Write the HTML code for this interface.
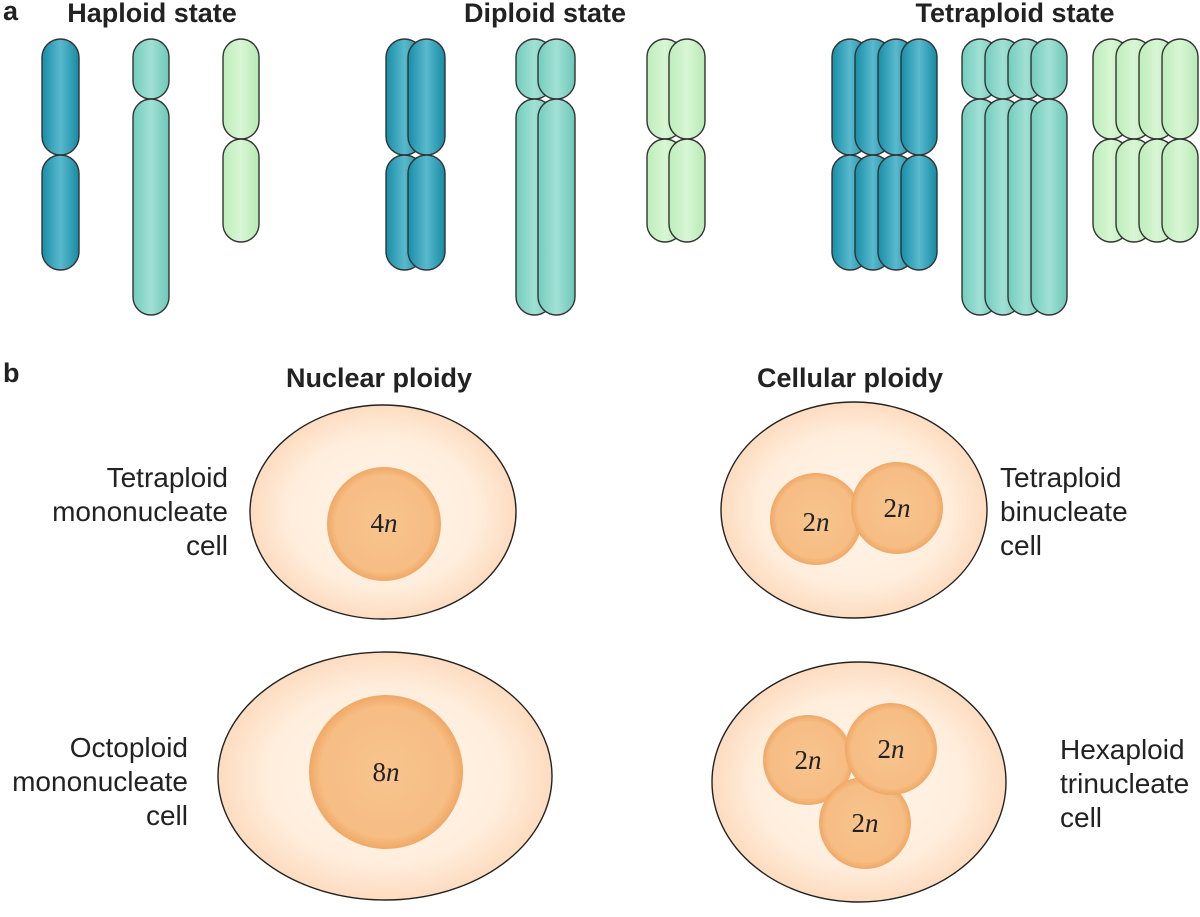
<!DOCTYPE html>
<html><head><meta charset="utf-8"><style>
html,body{margin:0;padding:0;background:#fff;}
svg{display:block;}
text{font-family:"Liberation Sans","DejaVu Sans",sans-serif;}
.t{font-weight:bold;font-size:27px;fill:#222;}
.l{font-size:28px;fill:#222;}
.n{font-family:"Liberation Serif","DejaVu Serif",serif;font-size:27px;fill:#222;}
</style></head><body>
<svg width="1200" height="917" viewBox="0 0 1200 917" xmlns="http://www.w3.org/2000/svg">
<defs>
<linearGradient id="gd" x1="0" x2="1" y1="0" y2="0"><stop offset="0" stop-color="#168ea8"/><stop offset="0.5" stop-color="#5ab9cd"/><stop offset="1" stop-color="#158ba5"/></linearGradient>
<linearGradient id="gt" x1="0" x2="1" y1="0" y2="0"><stop offset="0" stop-color="#72cdbd"/><stop offset="0.5" stop-color="#a2e0d5"/><stop offset="1" stop-color="#6cc8b8"/></linearGradient>
<linearGradient id="gg" x1="0" x2="1" y1="0" y2="0"><stop offset="0" stop-color="#bdedba"/><stop offset="0.5" stop-color="#d8f6d4"/><stop offset="1" stop-color="#b7eab4"/></linearGradient>
<radialGradient id="gc" cx="0.5" cy="0.5" r="0.5"><stop offset="0" stop-color="#fff4ea"/><stop offset="0.7" stop-color="#ffeedd"/><stop offset="1" stop-color="#fddcc0"/></radialGradient>
<radialGradient id="gn" cx="0.5" cy="0.5" r="0.5"><stop offset="0" stop-color="#f8c48e"/><stop offset="0.85" stop-color="#f6bd84"/><stop offset="1" stop-color="#f0a865"/></radialGradient>
</defs>

<text x="3" y="20" class="t" font-size="28">a</text>
<text x="152" y="22" class="t" text-anchor="middle">Haploid state</text>
<text x="545" y="22" class="t" text-anchor="middle">Diploid state</text>
<text x="1015" y="22" class="t" text-anchor="middle">Tetraploid state</text>

<g stroke="#333" stroke-width="1.4">
<rect x="42" y="39" width="37" height="116" rx="18.5" fill="url(#gd)"/><rect x="42" y="155" width="37" height="115" rx="18.5" fill="url(#gd)"/>
<rect x="133" y="39" width="36" height="60" rx="18" fill="url(#gt)"/><rect x="133" y="99" width="36" height="216" rx="18" fill="url(#gt)"/>
<rect x="223" y="39" width="36" height="100" rx="18" fill="url(#gg)"/><rect x="223" y="139" width="36" height="103" rx="18" fill="url(#gg)"/>
<rect x="386" y="39" width="37" height="116" rx="18.5" fill="url(#gd)"/><rect x="386" y="155" width="37" height="115" rx="18.5" fill="url(#gd)"/>
<rect x="408" y="39" width="37" height="116" rx="18.5" fill="url(#gd)"/><rect x="408" y="155" width="37" height="115" rx="18.5" fill="url(#gd)"/>
<rect x="516" y="39" width="37" height="60" rx="18.5" fill="url(#gt)"/><rect x="516" y="99" width="37" height="216" rx="18.5" fill="url(#gt)"/>
<rect x="538" y="39" width="37" height="60" rx="18.5" fill="url(#gt)"/><rect x="538" y="99" width="37" height="216" rx="18.5" fill="url(#gt)"/>
<rect x="647" y="39" width="36" height="100" rx="18" fill="url(#gg)"/><rect x="647" y="139" width="36" height="103" rx="18" fill="url(#gg)"/>
<rect x="669" y="39" width="36" height="100" rx="18" fill="url(#gg)"/><rect x="669" y="139" width="36" height="103" rx="18" fill="url(#gg)"/>
<rect x="832" y="39" width="36" height="116" rx="18" fill="url(#gd)"/><rect x="832" y="155" width="36" height="115" rx="18" fill="url(#gd)"/>
<rect x="855" y="39" width="36" height="116" rx="18" fill="url(#gd)"/><rect x="855" y="155" width="36" height="115" rx="18" fill="url(#gd)"/>
<rect x="878" y="39" width="36" height="116" rx="18" fill="url(#gd)"/><rect x="878" y="155" width="36" height="115" rx="18" fill="url(#gd)"/>
<rect x="901" y="39" width="36" height="116" rx="18" fill="url(#gd)"/><rect x="901" y="155" width="36" height="115" rx="18" fill="url(#gd)"/>
<rect x="962" y="39" width="36" height="60" rx="18" fill="url(#gt)"/><rect x="962" y="99" width="36" height="216" rx="18" fill="url(#gt)"/>
<rect x="985" y="39" width="36" height="60" rx="18" fill="url(#gt)"/><rect x="985" y="99" width="36" height="216" rx="18" fill="url(#gt)"/>
<rect x="1008" y="39" width="36" height="60" rx="18" fill="url(#gt)"/><rect x="1008" y="99" width="36" height="216" rx="18" fill="url(#gt)"/>
<rect x="1031" y="39" width="36" height="60" rx="18" fill="url(#gt)"/><rect x="1031" y="99" width="36" height="216" rx="18" fill="url(#gt)"/>
<rect x="1093" y="39" width="36" height="100" rx="18" fill="url(#gg)"/><rect x="1093" y="139" width="36" height="103" rx="18" fill="url(#gg)"/>
<rect x="1116" y="39" width="36" height="100" rx="18" fill="url(#gg)"/><rect x="1116" y="139" width="36" height="103" rx="18" fill="url(#gg)"/>
<rect x="1139" y="39" width="36" height="100" rx="18" fill="url(#gg)"/><rect x="1139" y="139" width="36" height="103" rx="18" fill="url(#gg)"/>
<rect x="1162" y="39" width="36" height="100" rx="18" fill="url(#gg)"/><rect x="1162" y="139" width="36" height="103" rx="18" fill="url(#gg)"/>
</g>

<text x="3" y="382" class="t" font-size="28">b</text>
<text x="379" y="387" class="t" text-anchor="middle">Nuclear ploidy</text>
<text x="850" y="387" class="t" text-anchor="middle">Cellular ploidy</text>

<ellipse cx="383" cy="512" rx="133" ry="107" fill="url(#gc)" stroke="#222" stroke-width="1.4"/>
<circle cx="384" cy="524" r="57" fill="url(#gn)"/>
<text x="384" y="532" class="n" text-anchor="middle">4<tspan font-style="italic">n</tspan></text>

<ellipse cx="854" cy="510" rx="133" ry="108" fill="url(#gc)" stroke="#222" stroke-width="1.4"/>
<circle cx="816" cy="519" r="46" fill="url(#gn)"/>
<circle cx="897" cy="508" r="46" fill="url(#gn)"/>
<text x="816" y="531" class="n" text-anchor="middle">2<tspan font-style="italic">n</tspan></text>
<text x="897" y="517" class="n" text-anchor="middle">2<tspan font-style="italic">n</tspan></text>

<ellipse cx="385" cy="776" rx="167" ry="124" fill="url(#gc)" stroke="#222" stroke-width="1.4"/>
<circle cx="386" cy="772" r="77" fill="url(#gn)"/>
<text x="386" y="781" class="n" text-anchor="middle">8<tspan font-style="italic">n</tspan></text>

<ellipse cx="859" cy="782" rx="147" ry="120" fill="url(#gc)" stroke="#222" stroke-width="1.4"/>
<circle cx="808" cy="760" r="45" fill="url(#gn)"/>
<circle cx="865" cy="823" r="46" fill="url(#gn)"/>
<circle cx="891" cy="749" r="46" fill="url(#gn)"/>
<text x="808" y="769" class="n" text-anchor="middle">2<tspan font-style="italic">n</tspan></text>
<text x="865" y="832" class="n" text-anchor="middle">2<tspan font-style="italic">n</tspan></text>
<text x="891" y="758" class="n" text-anchor="middle">2<tspan font-style="italic">n</tspan></text>

<text x="228" y="487" class="l" text-anchor="end">Tetraploid</text>
<text x="228" y="521" class="l" text-anchor="end">mononucleate</text>
<text x="228" y="555" class="l" text-anchor="end">cell</text>
<text x="1000" y="487" class="l">Tetraploid</text>
<text x="1000" y="521" class="l">binucleate</text>
<text x="1000" y="555" class="l">cell</text>
<text x="188" y="757" class="l" text-anchor="end">Octoploid</text>
<text x="188" y="791" class="l" text-anchor="end">mononucleate</text>
<text x="188" y="825" class="l" text-anchor="end">cell</text>
<text x="1060" y="759" class="l">Hexaploid</text>
<text x="1060" y="793" class="l">trinucleate</text>
<text x="1060" y="827" class="l">cell</text>
</svg>
</body></html>
